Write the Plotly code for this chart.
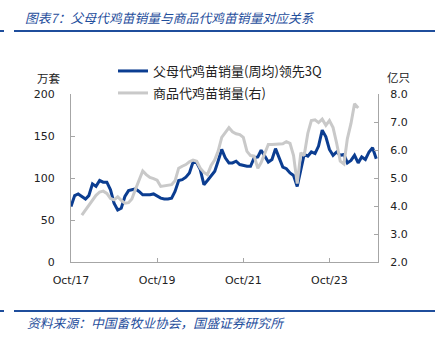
import pandas as pd
import plotly.graph_objects as go

# Parent-stock chick sales (weekly avg, shifted 3 quarters ahead), 10k sets, monthly from Oct 2017
parent_start = "2017-10-01"
parent_sales = [
    66, 79, 81, 78, 75, 79, 93, 90, 97, 95, 95, 86, 70, 62, 64, 78, 85, 86, 87, 84,
    80, 80, 80, 81, 79, 76, 75, 75, 76, 84, 97, 98, 101, 106, 119, 118, 110, 92, 97, 102,
    108, 120, 134, 124, 118, 118, 120, 116, 115, 114, 114, 124, 125, 133, 126, 119, 122, 135, 124, 113,
    111, 106, 103, 90, 110, 128, 126, 131, 129, 138, 157, 149, 134, 127, 131, 127, 128, 118, 121, 127,
    118, 125, 122, 131, 136, 123,
]

# Commercial chick sales (right axis), 100M birds, monthly from Jan 2018
broiler_start = "2018-01-01"
broiler_sales = [
    3.67, 3.85, 4.02, 4.18, 4.38, 4.50, 4.53, 4.45, 4.27, 4.22, 4.33, 4.20, 4.10, 4.12, 4.25, 4.60,
    4.95, 5.25, 5.12, 5.02, 4.98, 4.92, 4.70, 4.72, 4.73, 4.76, 4.90, 5.35, 5.42, 5.48, 5.58, 5.64,
    5.60, 5.35, 5.20, 5.12, 5.45, 5.65, 5.95, 6.45, 6.62, 6.80, 6.65, 6.58, 6.55, 6.45, 5.95, 5.80,
    5.78, 5.35, 5.55, 5.85, 6.20, 6.20, 6.20, 6.20, 6.22, 6.30, 6.24, 5.80, 4.80, 5.90, 5.80, 6.60,
    7.05, 7.08, 6.98, 7.10, 6.88, 7.05, 6.80, 6.25, 5.60, 5.50, 6.40, 6.95, 7.65, 7.50,
]

parent_name = "父母代鸡苗销量(周均)领先3Q"
broiler_name = "商品代鸡苗销量(右)"
title_text = "图表7：父母代鸡苗销量与商品代鸡苗销量对应关系"
source_text = "资料来源：中国畜牧业协会，国盛证券研究所"

parent_dates = pd.date_range(parent_start, periods=len(parent_sales), freq="MS")
broiler_dates = pd.date_range(broiler_start, periods=len(broiler_sales), freq="MS")

W, H = 437, 344
L, R, T, B = 71, 59, 94, 82
PW, PH = W - L - R, H - T - B


def px(x):
    return (x - L) / PW


def py(y):
    return 1 + (T - y) / PH


BLUE = "#0b3d91"
GRAY = "#c9c9c9"
RULE = "#1f4e9c"
AXIS = "#a6a6a6"
CJK = "Noto Sans CJK SC"
NUM = "DejaVu Sans"

fig = go.Figure()
fig.add_trace(go.Scatter(
    x=broiler_dates, y=broiler_sales, name=broiler_name, yaxis="y2",
    mode="lines", line=dict(color=GRAY, width=3), legend="legend2",
))
fig.add_trace(go.Scatter(
    x=parent_dates, y=parent_sales, name=parent_name,
    mode="lines", line=dict(color=BLUE, width=3), legend="legend",
))

axis_common = dict(
    showline=True, linecolor=AXIS, linewidth=1, showgrid=False, zeroline=False,
    ticks="inside", ticklen=4, tickcolor=AXIS,
    tickfont=dict(family=NUM, size=11, color="#222"),
)

legend_font = dict(family=CJK, size=13, color="#222")

fig.update_layout(
    width=W, height=H,
    margin=dict(l=L, r=R, t=T, b=B),
    paper_bgcolor="white", plot_bgcolor="white",
    xaxis=dict(
        type="date", range=["2017-10-01", "2024-11-16"],
        tick0="2017-10-01", dtick="M24", tickformat="%b/%y",
        ticklabelstandoff=8, **axis_common,
    ),
    yaxis=dict(range=[0, 200], dtick=50, ticklabelstandoff=13, **axis_common),
    yaxis2=dict(
        range=[2, 8], dtick=1, tickformat=".1f", overlaying="y", side="right",
        ticklabelstandoff=9, **axis_common,
    ),
    legend=dict(
        x=px(113), y=py(71), xanchor="left", yanchor="middle",
        font=legend_font, bgcolor="rgba(0,0,0,0)",
    ),
    legend2=dict(
        x=px(113), y=py(93), xanchor="left", yanchor="middle",
        font=legend_font, bgcolor="rgba(0,0,0,0)",
    ),
    showlegend=True,
)

annotations = [
    dict(text=title_text, x=px(23), y=py(17), xanchor="left", yanchor="middle",
         font=dict(family=CJK, size=12.8, color=RULE, style="italic")),
    dict(text=source_text, x=px(25), y=py(322), xanchor="left", yanchor="middle",
         font=dict(family=CJK, size=12.8, color=RULE, style="italic")),
    dict(text="万套", x=px(49), y=py(78), xanchor="center", yanchor="middle",
         font=dict(family=CJK, size=11.5, color="#222")),
    dict(text="亿只", x=px(398), y=py(77), xanchor="center", yanchor="middle",
         font=dict(family=CJK, size=11.5, color="#222")),
]
for a in annotations:
    fig.add_annotation(xref="paper", yref="paper", showarrow=False, **a)

# horizontal rules above the chart and above the source line
for yy in (31, 311):
    for x0, x1 in ((0, 4), (14, 435)):
        fig.add_shape(type="line", xref="paper", yref="paper",
                      x0=px(x0), x1=px(x1), y0=py(yy), y1=py(yy),
                      line=dict(color=RULE, width=2))

fig.write_html("out.html")
